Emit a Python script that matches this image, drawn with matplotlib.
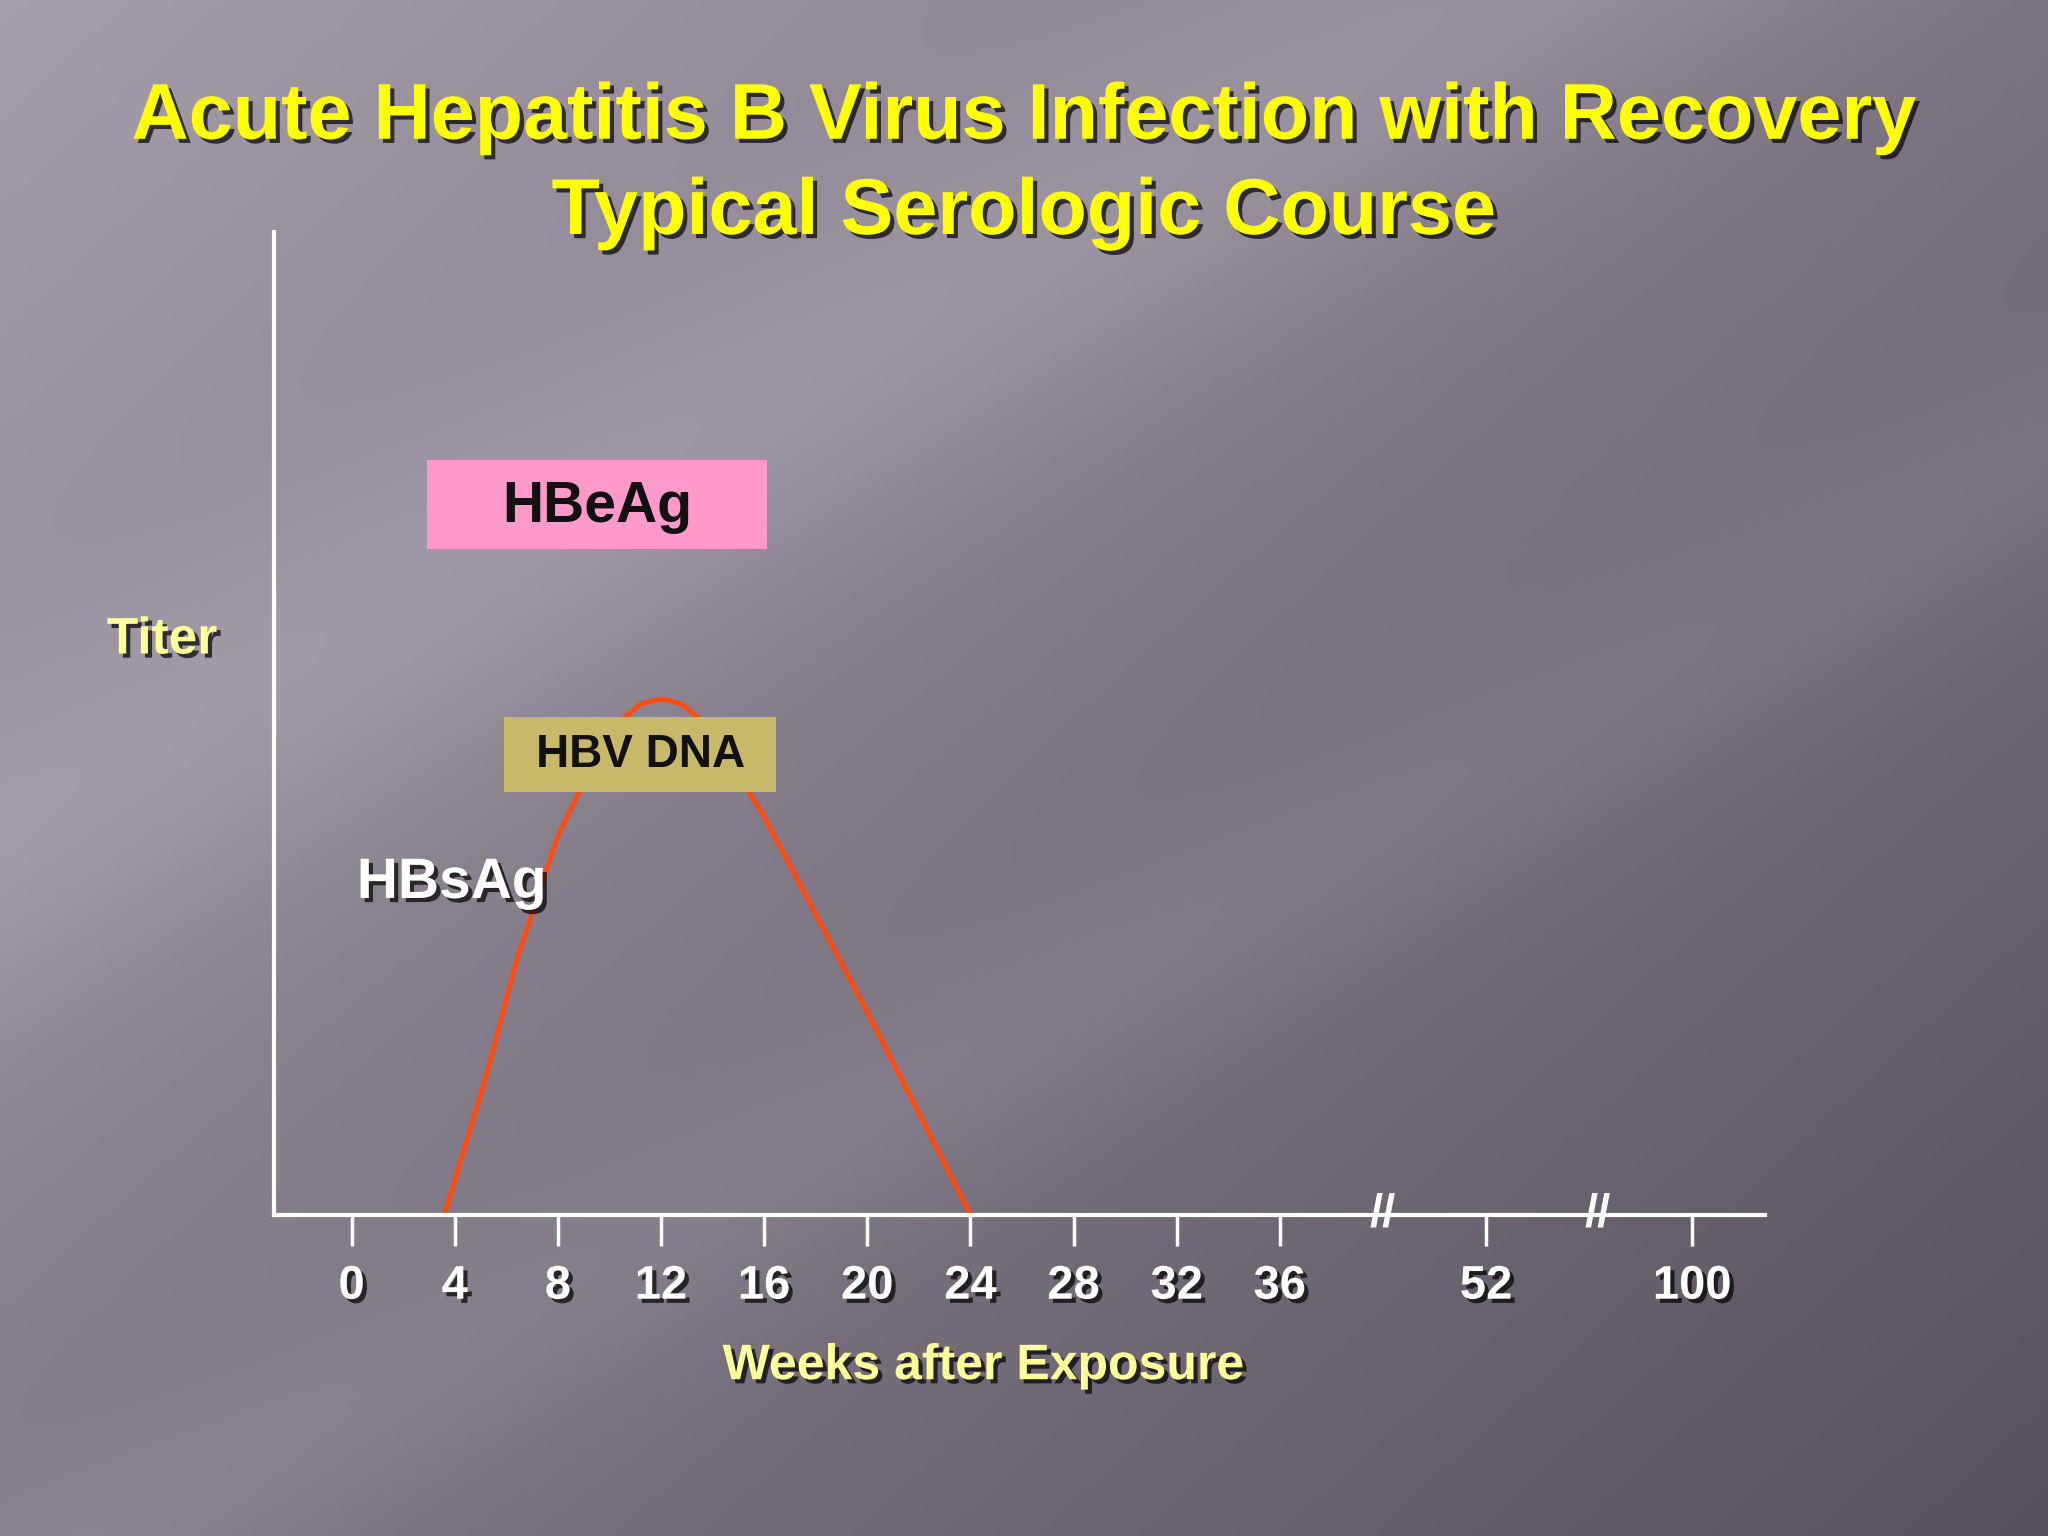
import numpy as np
import matplotlib
matplotlib.use("Agg")
import matplotlib.pyplot as plt
import matplotlib.patheffects as pe
from matplotlib.patches import Rectangle

# data
tick_pos = [0, 1, 2, 3, 4, 5, 6, 7, 8, 9, 11, 13]
tick_labels = ["0", "4", "8", "12", "16", "20", "24", "28", "32", "36", "52", "100"]
break_pos = [10, 12.08]
hbsag_x = [0.9, 1.3, 1.6, 2.0, 2.4, 2.6, 2.8, 3.0, 3.2, 3.4, 3.6, 4.0, 4.5, 5.0, 5.5, 6.0]
hbsag_y = [0, 105, 195, 290, 355, 378, 391, 395, 391, 378, 355, 305, 230, 155, 78, 0]

W, H = 2048, 1536
fig = plt.figure(figsize=(W/100, H/100), dpi=100)

# background
bg = fig.add_axes([0, 0, 1, 1])
yy, xx = np.mgrid[0:1:400j, 0:1:540j]
base = 1 - (0.55*xx + 0.45*yy)
d = (xx*0.75 + yy) - 0.55
streak = np.exp(-(d/0.12)**2)*0.35 + np.exp(-((xx*0.75 + yy - 1.05)/0.08)**2)*0.2
t = np.clip(base*0.8 + streak*0.5, 0, 1)
c0 = np.array([88, 80, 92])/255
c1 = np.array([185, 178, 190])/255
img = c0[None, None, :] + (c1 - c0)[None, None, :]*t[..., None]
bg.imshow(img, extent=[0, 1, 0, 1], aspect='auto', origin='upper')
bg.axis('off')

shadow = [pe.withSimplePatchShadow(offset=(3, -3), shadow_rgbFace='black', alpha=0.7)]

fig.text(0.5, 0.923, "Acute Hepatitis B Virus Infection with Recovery", ha='center', va='center',
         fontsize=57, fontweight='bold', color='#ffff00', family='Liberation Sans', path_effects=shadow)
fig.text(0.5, 0.861, "Typical Serologic Course", ha='center', va='center',
         fontsize=57, fontweight='bold', color='#ffff00', family='Liberation Sans', path_effects=shadow)

ax = fig.add_axes([210/1568, 1-930/1176, 1141/1568, 752/1176])
ax.set_xlim(-0.75, 13.7)
ax.set_ylim(0, 752)
ax.patch.set_alpha(0)
for s in ['top', 'right']:
    ax.spines[s].set_visible(False)
for s in ['left', 'bottom']:
    ax.spines[s].set_color('white')
    ax.spines[s].set_linewidth(3)
ax.set_yticks([])
ax.set_xticks(tick_pos)
ax.set_xticklabels(tick_labels, fontsize=34, fontweight='bold', color='white', family='Liberation Sans')
ax.tick_params(axis='x', colors='white', length=22, width=2.5, pad=14, labelcolor='white')
for lab in ax.get_xticklabels():
    lab.set_path_effects(shadow)

ax.plot(hbsag_x, hbsag_y, color='#ff4a10', lw=3.5, solid_capstyle='round', zorder=2)

for b in break_pos:
    ax.text(b, 0, "//", ha='center', va='center', fontsize=34, fontweight='bold',
            color='white', family='Liberation Sans', clip_on=False)

# boxes
ax.add_patch(Rectangle((0.73, 510), 3.3, 68, facecolor='#ff99cc', edgecolor='none', zorder=3))
ax.text(2.38, 542, "HBeAg", ha='center', va='center', fontsize=41, fontweight='bold',
        color='#111111', family='Liberation Sans', zorder=4)
ax.add_patch(Rectangle((1.48, 324), 2.63, 57, facecolor='#c8b86a', edgecolor='none', zorder=3))
ax.text(2.80, 352, "HBV DNA", ha='center', va='center', fontsize=33, fontweight='bold',
        color='#111111', family='Liberation Sans', zorder=4)
ax.text(0.05, 254, "HBsAg", ha='left', va='center', fontsize=41, fontweight='bold',
        color='white', family='Liberation Sans', path_effects=shadow, zorder=4)

fig.text(124/1568, 1-490/1176, "Titer", ha='center', va='center', fontsize=37, fontweight='bold',
         color='#ffff99', family='Liberation Sans', path_effects=shadow)
fig.text(753/1568, 1-1046/1176, "Weeks after Exposure", ha='center', va='center', fontsize=36,
         fontweight='bold', color='#ffff99', family='Liberation Sans', path_effects=shadow)

fig.savefig("out.png", dpi=100)
